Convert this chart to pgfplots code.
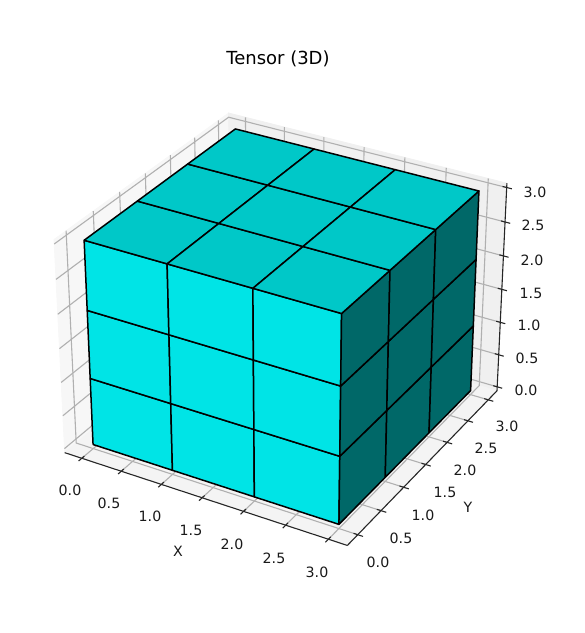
\documentclass[border=0pt]{standalone}
\usepackage{fontspec}
\setmainfont{DejaVu Sans}
\usepackage{pgfplots}
\pgfplotsset{compat=1.18}

\definecolor{topc}{HTML}{00C8C8}
\definecolor{frontc}{HTML}{00E4E6}
\definecolor{sidec}{HTML}{006868}
\definecolor{gridc}{HTML}{B0B0B0}

% perspective of the 3D view (elev 30, azim -60), data units to picture pixels
\def\den{(10-(0.15621*(\thisrow{X}-1.5)-0.27056*(\thisrow{Y}-1.5)+0.14881*(\thisrow{Z}-1.5)))}
\def\sx{285+2610*(0.31242*(\thisrow{X}-1.5)+0.18038*(\thisrow{Y}-1.5))/\den}
\def\sy{318.4-2610*(-0.09019*(\thisrow{X}-1.5)+0.15621*(\thisrow{Y}-1.5)+0.25775*(\thisrow{Z}-1.5))/\den}

\tikzset{
  pane/.style={fill=#1,draw=#1,line width=0.8pt},
  gridl/.style={draw=gridc,line width=1.1pt,line join=round},
  axl/.style={draw=black!85,line width=1.1pt},
  cell/.style={fill=#1,draw=black,line width=1.5pt,line join=round},
  tl/.style={font=\fontsize{14.2}{16}\selectfont,inner sep=0pt,text=black!90},
}
\newcommand\poly[2]{\addplot[#1] table[x expr=\sx,y expr=\sy,row sep=\\]{X Y Z\\ #2\\};}

\begin{document}
\begin{tikzpicture}
\begin{axis}[
    scale only axis, width=585pt, height=633pt,
    xmin=0, xmax=585, ymin=0, ymax=633,
    y dir=reverse, hide axis, clip=false, no markers,
]
% hidden axis: keep the whole page
\path (axis cs:0,0) rectangle (axis cs:585,633);
% panes
\poly{pane=black!3}{-0.219 -0.219 -0.0625\\ -0.219 3.219 -0.0625\\ -0.219 3.219 3.0625\\ -0.219 -0.219 3.0625\\ -0.219 -0.219 -0.0625}
\poly{pane=black!6}{-0.219 3.219 -0.0625\\ 3.219 3.219 -0.0625\\ 3.219 3.219 3.0625\\ -0.219 3.219 3.0625\\ -0.219 3.219 -0.0625}
\poly{pane=black!4.5}{-0.219 -0.219 -0.0625\\ 3.219 -0.219 -0.0625\\ 3.219 3.219 -0.0625\\ -0.219 3.219 -0.0625\\ -0.219 -0.219 -0.0625}

% grid and ticks
\pgfplotsinvokeforeach{0,0.5,1,1.5,2,2.5,3}{
  \poly{gridl}{#1 -0.219 -0.0625\\ #1 3.219 -0.0625\\ #1 3.219 3.0625}
  \poly{gridl}{3.219 #1 -0.0625\\ -0.219 #1 -0.0625\\ -0.219 #1 3.0625}
  \poly{gridl}{-0.219 -0.219 #1\\ -0.219 3.219 #1\\ 3.219 3.219 #1}
  \poly{axl}{#1 -0.28 -0.0625\\ #1 -0.17 -0.0625}
  \poly{axl}{3.17 #1 -0.0625\\ 3.28 #1 -0.0625}
  \poly{axl}{3.17 3.219 #1\\ 3.28 3.219 #1}
}
% axis lines
\poly{axl}{-0.219 -0.219 -0.0625\\ 3.219 -0.219 -0.0625}
\poly{axl}{3.219 -0.219 -0.0625\\ 3.219 3.219 -0.0625}
\poly{axl}{3.219 3.219 -0.0625\\ 3.219 3.219 3.0625}

% front faces (y = 0)
\poly{cell=frontc}{0 0 0\\ 1 0 0\\ 1 0 1\\ 0 0 1\\ 0 0 0}
\poly{cell=frontc}{1 0 0\\ 2 0 0\\ 2 0 1\\ 1 0 1\\ 1 0 0}
\poly{cell=frontc}{2 0 0\\ 3 0 0\\ 3 0 1\\ 2 0 1\\ 2 0 0}
\poly{cell=frontc}{0 0 1\\ 1 0 1\\ 1 0 2\\ 0 0 2\\ 0 0 1}
\poly{cell=frontc}{1 0 1\\ 2 0 1\\ 2 0 2\\ 1 0 2\\ 1 0 1}
\poly{cell=frontc}{2 0 1\\ 3 0 1\\ 3 0 2\\ 2 0 2\\ 2 0 1}
\poly{cell=frontc}{0 0 2\\ 1 0 2\\ 1 0 3\\ 0 0 3\\ 0 0 2}
\poly{cell=frontc}{1 0 2\\ 2 0 2\\ 2 0 3\\ 1 0 3\\ 1 0 2}
\poly{cell=frontc}{2 0 2\\ 3 0 2\\ 3 0 3\\ 2 0 3\\ 2 0 2}
% side faces (x = 3)
\poly{cell=sidec}{3 0 0\\ 3 1 0\\ 3 1 1\\ 3 0 1\\ 3 0 0}
\poly{cell=sidec}{3 1 0\\ 3 2 0\\ 3 2 1\\ 3 1 1\\ 3 1 0}
\poly{cell=sidec}{3 2 0\\ 3 3 0\\ 3 3 1\\ 3 2 1\\ 3 2 0}
\poly{cell=sidec}{3 0 1\\ 3 1 1\\ 3 1 2\\ 3 0 2\\ 3 0 1}
\poly{cell=sidec}{3 1 1\\ 3 2 1\\ 3 2 2\\ 3 1 2\\ 3 1 1}
\poly{cell=sidec}{3 2 1\\ 3 3 1\\ 3 3 2\\ 3 2 2\\ 3 2 1}
\poly{cell=sidec}{3 0 2\\ 3 1 2\\ 3 1 3\\ 3 0 3\\ 3 0 2}
\poly{cell=sidec}{3 1 2\\ 3 2 2\\ 3 2 3\\ 3 1 3\\ 3 1 2}
\poly{cell=sidec}{3 2 2\\ 3 3 2\\ 3 3 3\\ 3 2 3\\ 3 2 2}
% top faces (z = 3)
\poly{cell=topc}{0 0 3\\ 1 0 3\\ 1 1 3\\ 0 1 3\\ 0 0 3}
\poly{cell=topc}{1 0 3\\ 2 0 3\\ 2 1 3\\ 1 1 3\\ 1 0 3}
\poly{cell=topc}{2 0 3\\ 3 0 3\\ 3 1 3\\ 2 1 3\\ 2 0 3}
\poly{cell=topc}{0 1 3\\ 1 1 3\\ 1 2 3\\ 0 2 3\\ 0 1 3}
\poly{cell=topc}{1 1 3\\ 2 1 3\\ 2 2 3\\ 1 2 3\\ 1 1 3}
\poly{cell=topc}{2 1 3\\ 3 1 3\\ 3 2 3\\ 2 2 3\\ 2 1 3}
\poly{cell=topc}{0 2 3\\ 1 2 3\\ 1 3 3\\ 0 3 3\\ 0 2 3}
\poly{cell=topc}{1 2 3\\ 2 2 3\\ 2 3 3\\ 1 3 3\\ 1 2 3}
\poly{cell=topc}{2 2 3\\ 3 2 3\\ 3 3 3\\ 2 3 3\\ 2 2 3}

% text
\node[font=\fontsize{18}{20}\selectfont,inner sep=0pt] at (axis cs:278,59) {Tensor (3D)};
\node[tl] at (axis cs:70,490) {0.0};
\node[tl] at (axis cs:109,503) {0.5};
\node[tl] at (axis cs:150,516) {1.0};
\node[tl] at (axis cs:191,530) {1.5};
\node[tl] at (axis cs:232,544) {2.0};
\node[tl] at (axis cs:274,558) {2.5};
\node[tl] at (axis cs:317,572) {3.0};
\node[tl] at (axis cs:178,551) {X};
\node[tl] at (axis cs:378,562) {0.0};
\node[tl] at (axis cs:401,538) {0.5};
\node[tl] at (axis cs:423,515) {1.0};
\node[tl] at (axis cs:445,492) {1.5};
\node[tl] at (axis cs:465,470) {2.0};
\node[tl] at (axis cs:486,448) {2.5};
\node[tl] at (axis cs:507,426) {3.0};
\node[tl] at (axis cs:468,507) {Y};
\node[tl] at (axis cs:526,390) {0.0};
\node[tl] at (axis cs:527,358) {0.5};
\node[tl] at (axis cs:529,325) {1.0};
\node[tl] at (axis cs:531,293) {1.5};
\node[tl] at (axis cs:532,260) {2.0};
\node[tl] at (axis cs:533,225) {2.5};
\node[tl] at (axis cs:535,192) {3.0};
\end{axis}
\end{tikzpicture}
\end{document}
